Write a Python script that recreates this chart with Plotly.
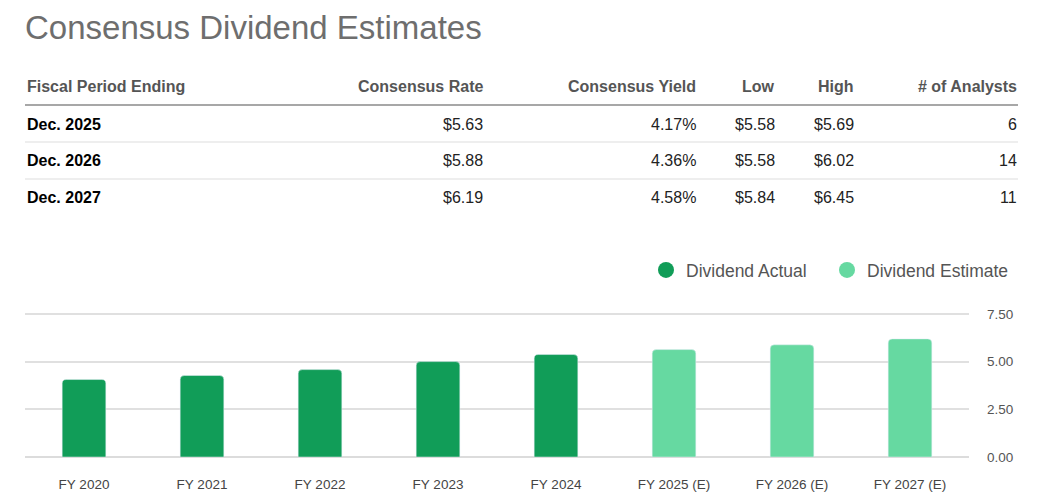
import plotly.graph_objects as go

# chart data
years = ["FY 2020", "FY 2021", "FY 2022", "FY 2023", "FY 2024",
         "FY 2025 (E)", "FY 2026 (E)", "FY 2027 (E)"]
actual_years = years[:5]
actual_values = [4.06, 4.27, 4.58, 5.00, 5.37]
estimate_years = years[5:]
estimate_values = [5.63, 5.88, 6.19]
y_ticks = [0, 2.5, 5, 7.5]

# table data
table_headers = ["Fiscal Period Ending", "Consensus Rate", "Consensus Yield",
                 "Low", "High", "# of Analysts"]
periods = ["Dec. 2025", "Dec. 2026", "Dec. 2027"]
rates = ["$5.63", "$5.88", "$6.19"]
yields = ["4.17%", "4.36%", "4.58%"]
lows = ["$5.58", "$5.58", "$5.84"]
highs = ["$5.69", "$6.02", "$6.45"]
analysts = ["6", "14", "11"]

W, H = 1039, 499
OFF = 8  # page body margin
YMAX = 7.6
L, R, B = 25, 969, 457
T = round(B - 143 * YMAX / 7.5)  # 7.50 gridline near y=314
FONT = "Liberation Sans, Arial, sans-serif"
DARK = "#119d58"
LIGHT = "#66d9a1"


def px(x):
    return (x - L) / (R - L)


def py(y):
    return (B - y) / (B - T)


fig = go.Figure()
fig.add_trace(go.Bar(x=actual_years, y=actual_values, marker_color=DARK,
                     width=0.37, showlegend=False))
fig.add_trace(go.Bar(x=estimate_years, y=estimate_values, marker_color=LIGHT,
                     width=0.37, showlegend=False))
# circle legend entries
fig.add_trace(go.Scatter(x=[None], y=[None], mode="markers", name="Dividend Actual",
                         marker=dict(color=DARK, size=16, symbol="circle")))
fig.add_trace(go.Scatter(x=[None], y=[None], mode="markers", name="Dividend Estimate",
                         marker=dict(color=LIGHT, size=16, symbol="circle")))

annotations = []
shapes = []

annotations.append(dict(text="Consensus Dividend Estimates", xref="paper", yref="paper",
                        x=px(23), y=py(27), xanchor="left", yanchor="middle",
                        showarrow=False, font=dict(family=FONT, size=33, color="#6e6e6e")))

col_right = [None, 484, 697, 776, 855, 1018]
header_y = 87
row_ys = [125, 160, 197]
columns = [periods, rates, yields, lows, highs, analysts]

for i, h in enumerate(table_headers):
    if i == 0:
        x, anchor = px(25), "left"
    else:
        x, anchor = px(col_right[i] + 1), "right"
    annotations.append(dict(text="<b>%s</b>" % h, xref="paper", yref="paper", x=x,
                            y=py(header_y), xanchor=anchor, yanchor="middle",
                            showarrow=False,
                            font=dict(family=FONT, size=16, color="#555555")))

for i, col in enumerate(columns):
    for j, val in enumerate(col):
        if i == 0:
            txt, x, anchor, color = "<b>%s</b>" % val, px(25), "left", "#000000"
        else:
            txt, x, anchor, color = val, px(col_right[i] + 1), "right", "#222222"
        annotations.append(dict(text=txt, xref="paper", yref="paper", x=x,
                                y=py(row_ys[j]), xanchor=anchor, yanchor="middle",
                                showarrow=False,
                                font=dict(family=FONT, size=16, color=color)))

shapes.append(dict(type="line", xref="paper", yref="paper", x0=px(25), x1=px(1018),
                   y0=py(105), y1=py(105), line=dict(color="#8a8a8a", width=1.5)))
for yl in [142, 179]:
    shapes.append(dict(type="line", xref="paper", yref="paper", x0=px(25), x1=px(1018),
                       y0=py(yl), y1=py(yl), line=dict(color="#dddddd", width=1)))

fig.update_layout(
    width=W - OFF, height=H - OFF,
    margin=dict(l=L - OFF, r=W - R, t=T - OFF, b=H - B, pad=0),
    paper_bgcolor="white", plot_bgcolor="white",
    barmode="overlay", barcornerradius=4,
    font=dict(family=FONT, color="#444444"),
    annotations=annotations, shapes=shapes,
    legend=dict(orientation="h", x=px(1008), xanchor="right", y=py(270), yanchor="middle",
                font=dict(family=FONT, size=17.5, color="#555555"),
                entrywidth=136, bgcolor="rgba(0,0,0,0)"),
    xaxis=dict(categoryorder="array", categoryarray=years, showgrid=False,
               showline=False, ticks="", tickfont=dict(size=13.5, color="#444444"),
               ticklabelstandoff=17, automargin=False, fixedrange=True),
    yaxis=dict(range=[0, YMAX], tickvals=y_ticks, tickformat=".2f", side="right",
               showgrid=True, gridcolor="#e0e0e0", gridwidth=1.5,
               zeroline=True, zerolinecolor="#dcdcdc", zerolinewidth=2,
               showline=False, ticks="", tickfont=dict(size=13.5, color="#555555"),
               ticklabelstandoff=17, automargin=False, fixedrange=True),
)

fig.write_html("out.html")
